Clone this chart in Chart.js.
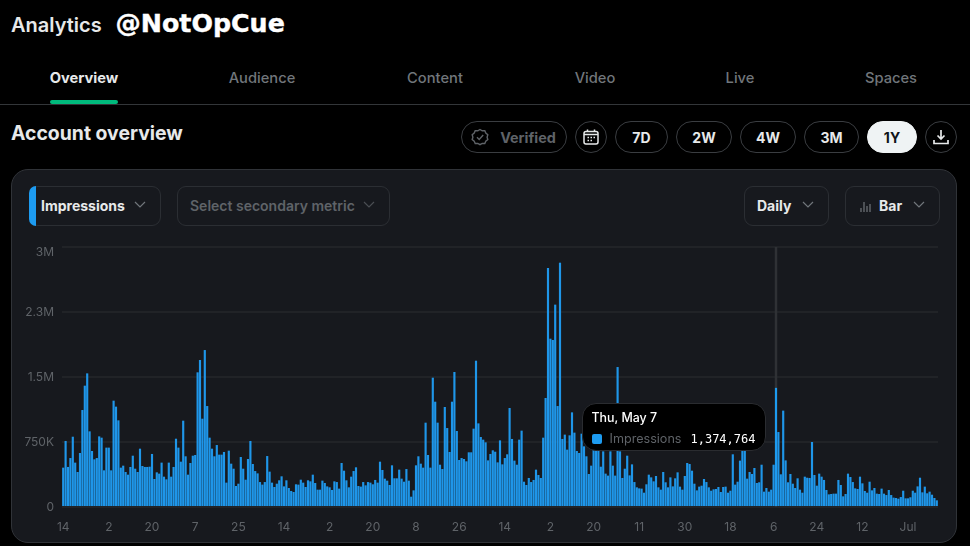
<!DOCTYPE html>
<html>
<head>
<meta charset="utf-8">
<title>Analytics</title>
<script src="https://cdn.jsdelivr.net/npm/chart.js@4"></script>
<style>
  * { box-sizing: border-box; }
  html, body { margin: 0; width: 970px; height: 546px; overflow: hidden; background: #000; font-family: Inter, sans-serif; }
  .abs { position: absolute; white-space: nowrap; }

  #heading { left: 11px; top: 13px; font-size: 20px; line-height: 24px; font-weight: 600; color: #e7e9ea; }
  #handle { left: 115.5px; top: 9px; font: 700 25.300px/30px "DejaVu Sans", sans-serif; color: #fff; -webkit-text-stroke: 0.4px #fff; }

  .tab { top: 69px; font-size: 14.700px; line-height: 18px; font-weight: 500; color: #71767b; transform: translateX(-50%); }
  .tab.on { font-weight: 700; color: #e7e9ea; }
  #tab-bar { left: 50px; top: 100px; width: 68px; height: 4px; border-radius: 2px; background: #00ba7c; }
  #tab-line { left: 0; top: 104px; width: 970px; height: 1px; background: #333639; }

  #section { left: 11px; top: 121px; font-size: 19.400px; line-height: 24px; font-weight: 700; color: #e7e9ea; }

  .pill { top: 121px; height: 32px; border: 1px solid #3a3d41; border-radius: 16px; color: #e7e9ea; font-size: 14px; font-weight: 700; display: flex; align-items: center; justify-content: center; }
  .pill.on { background: #eff3f4; border-color: #eff3f4; color: #0f1419; }

  #panel { left: 11px; top: 169px; width: 946px; height: 374px; background: #17191e; border: 1px solid #303338; border-radius: 17px; }

  .drop { top: 186px; height: 40px; border: 1px solid #2b2e33; border-radius: 9px; font-size: 14px; font-weight: 700; line-height: 38px; color: #e7e9ea; }
  .drop span { position: absolute; top: 0; }
  .drop svg { position: absolute; top: 14px; }
  #stripe { left: -1px; top: -1px; width: 7px; height: 40px; background: #1d9bf0; border-radius: 7px 0 0 7px; }

  #chart-wrap { left: 12px; top: 236px; width: 945px; height: 304px; }

  #tip { width: 184px; height: 48px; background: #000; border: 1px solid #2a2c30; border-radius: 14px; color: #fff; }
  #tip-title { position: absolute; left: 9px; top: 5px; font-size: 12.400px; line-height: 18px; font-weight: 500; }
  #tip-swatch { position: absolute; left: 9px; top: 30px; width: 10px; height: 10px; border-radius: 2px; background: #1d9bf0; }
  #tip-label { position: absolute; left: 27px; top: 26px; font-size: 12.600px; line-height: 18px; color: #5f6368; }
  #tip-value { position: absolute; right: 9px; top: 26px; font: 12px/18px "DejaVu Sans Mono", monospace; }
</style>
</head>
<body>

<div class="abs" id="heading">Analytics</div>
<div class="abs" id="handle">@NotOpCue</div>

<div class="abs tab on" style="left:84px">Overview</div>
<div class="abs tab" style="left:262px">Audience</div>
<div class="abs tab" style="left:435px">Content</div>
<div class="abs tab" style="left:595px">Video</div>
<div class="abs tab" style="left:740px">Live</div>
<div class="abs tab" style="left:891px">Spaces</div>
<div class="abs" id="tab-bar"></div>
<div class="abs" id="tab-line"></div>

<div class="abs" id="section">Account overview</div>

<div class="abs pill" style="left:461px;width:106px;color:#5f6368;font-size:14.400px;padding-left:28px">Verified
  <svg style="position:absolute;left:9px;top:6px" width="18" height="18" viewBox="0 0 18 18" fill="none" stroke="#5f6368" stroke-width="1.4"><path d="M9 1.5l2.2 1.3 2.6-.1 1 2.4 2 1.6-.7 2.5.7 2.3-2 1.6-1 2.4-2.6-.1L9 16.7l-2.2-1.3-2.6.1-1-2.4-2-1.6.7-2.3L1.200 6.700l2-1.600 1-2.400 2.600.1z"/><path d="M6 9.300l2.200 2.200 4-4.500"/></svg>
</div>
<div class="abs pill" style="left:575px;width:32px">
  <svg width="16" height="16" viewBox="0 0 16 16" fill="none" stroke="#e7e9ea" stroke-width="1.500"><rect x="1" y="2.500" width="14" height="12.500" rx="2"/><path d="M1 5.500h14M4.500 .5v2M11.500 .5v2"/><path d="M4.500 8.500h1.500M7.500 8.500h1.500M10.500 8.500h1.500M4.500 11.500h1.500M7.500 11.500h1.500"/></svg>
</div>
<div class="abs pill" style="left:615px;width:53px">7D</div>
<div class="abs pill" style="left:676px;width:56px">2W</div>
<div class="abs pill" style="left:740px;width:56px">4W</div>
<div class="abs pill" style="left:804px;width:55px">3M</div>
<div class="abs pill on" style="left:867px;width:50px">1Y</div>
<div class="abs pill" style="left:925px;width:32px">
  <svg width="16" height="16" viewBox="0 0 16 16" fill="none" stroke="#e7e9ea" stroke-width="1.700"><path d="M8 1v9M4.500 6.500L8 10l3.500-3.500"/><path d="M1 11v3.500h14V11"/></svg>
</div>

<div class="abs" id="panel"></div>

<div class="abs drop" style="left:29px;width:132px">
  <div class="abs" id="stripe"></div>
  <span style="left:11px">Impressions</span>
  <svg style="left:104px" width="12" height="8" viewBox="0 0 12 8" fill="none" stroke="#71767b" stroke-width="1.200"><path d="M1 1l5 5 5-5"/></svg>
</div>
<div class="abs drop" style="left:177px;width:213px;color:#5f6368;font-weight:600">
  <span style="left:12px">Select secondary metric</span>
  <svg style="left:185px" width="12" height="8" viewBox="0 0 12 8" fill="none" stroke="#4b4e53" stroke-width="1.200"><path d="M1 1l5 5 5-5"/></svg>
</div>
<div class="abs drop" style="left:744px;width:85px">
  <span style="left:12px">Daily</span>
  <svg style="left:57px" width="12" height="8" viewBox="0 0 12 8" fill="none" stroke="#71767b" stroke-width="1.200"><path d="M1 1l5 5 5-5"/></svg>
</div>
<div class="abs drop" style="left:845px;width:95px">
  <svg style="left:14px;top:14px" width="11" height="11" viewBox="0 0 11 11" fill="none" stroke="#71767b" stroke-width="1.200"><path d="M1 11V7M4 11V1M7 11V5M10 11V3"/></svg>
  <span style="left:33px">Bar</span>
  <svg style="left:67px" width="12" height="8" viewBox="0 0 12 8" fill="none" stroke="#71767b" stroke-width="1.200"><path d="M1 1l5 5 5-5"/></svg>
</div>

<div class="abs" id="chart-wrap"><canvas id="myChart" width="945" height="304"></canvas></div>

<div class="abs" id="tip">
  <div id="tip-title"></div>
  <div id="tip-swatch"></div>
  <div id="tip-label"></div>
  <div id="tip-value"></div>
</div>

<script>
// ---------- DATA ----------

// daily impressions in thousands, one per day from Jul 14
var impressionsK = [
  454,762,462,565,811,512,404,623,1119,1400,1542,873,646,550,565,815,800,423,685,685,
  423,1227,1158,1000,454,477,404,373,462,592,442,404,673,473,462,462,465,612,323,400,
  385,512,350,319,512,350,462,788,685,523,996,585,373,508,592,600,1554,1696,1019,1811,
  1165,800,673,585,715,604,604,635,281,650,500,442,242,269,577,442,315,554,762,496,
  415,388,288,258,288,588,408,281,231,269,308,354,238,308,219,185,173,262,258,315,
  281,231,308,296,373,277,200,200,304,277,238,227,196,296,288,212,508,419,308,227,
  350,415,458,242,235,288,250,288,281,262,312,281,523,427,327,304,254,481,331,331,
  431,327,292,438,304,119,192,481,585,500,454,973,600,454,1492,1215,973,488,438,1154,
  911,635,1215,1558,877,542,565,554,527,631,631,904,1688,965,808,777,746,538,612,654,
  638,515,769,492,565,608,1142,785,535,488,777,881,292,254,335,288,312,431,369,335,
  800,1258,2758,1942,1927,2335,1165,2819,785,835,662,827,1092,858,646,623,846,700,585,381,
  477,662,738,738,465,642,385,362,642,477,362,1615,642,335,442,592,365,492,288,227,
  215,212,165,262,373,342,296,358,227,200,404,285,227,342,238,331,400,235,200,358,
  508,496,419,269,192,235,246,323,288,227,188,204,208,231,173,231,235,165,188,608,
  258,292,535,700,700,327,404,381,450,277,285,488,177,219,177,200,488,1374.764,865,377,
  1112,538,285,381,269,219,331,200,165,350,338,335,750,369,246,385,350,312,196,146,
  150,154,154,312,254,123,150,385,346,288,215,208,350,273,185,165,292,192,219,154,
  150,212,154,138,196,138,108,104,96,115,188,100,100,112,188,165,238,338,169,235,
  158,177,142,104,77
];

var yTickValues = [0, 750000, 1500000, 2250000, 3000000];
var yTickLabels = ["0", "750K", "1.5M", "2.3M", "3M"];

// day offsets of the labelled dates on the x axis
var xTickDays = [0, 19, 37, 55, 73, 92, 111, 129, 147, 165, 184, 203, 221, 240, 259, 278, 296, 314, 333, 352];
var xTickLabels = ["14", "2", "20", "7", "25", "14", "2", "20", "8", "26", "14", "2", "20", "11", "30", "18", "6", "24", "12", "Jul"];

var hoverDay = 297;

var days = [];
for (var i = 0; i < impressionsK.length; i++) {
  days.push(new Date(Date.UTC(2025, 6, 14 + i)).toLocaleDateString("en-US", {
    weekday: "short", month: "short", day: "numeric", timeZone: "UTC"
  }));
}

var impressions = impressionsK.map(function(v) { return Math.round(v * 1000); });

// ---------- CHART ----------

// vertical guide behind the hovered bar
var hoverLine = {
  id: "hoverLine",
  beforeDatasetsDraw: function(chart) {
    var active = chart.getActiveElements();
    if (!active.length) return;
    var c = chart.ctx;
    c.save();
    c.strokeStyle = "#2f3135";
    c.lineWidth = 2.5;
    c.beginPath();
    c.moveTo(active[0].element.x, chart.chartArea.top);
    c.lineTo(active[0].element.x, chart.chartArea.bottom);
    c.stroke();
    c.restore();
  }
};

function showTip(context) {
  var tip = context.tooltip;
  if (!tip.dataPoints || !tip.dataPoints.length) return;
  var point = tip.dataPoints[0];
  var box = document.getElementById("tip");
  var wrap = document.getElementById("chart-wrap");
  document.getElementById("tip-title").textContent = point.label;
  document.getElementById("tip-label").textContent = point.dataset.label;
  document.getElementById("tip-value").textContent = point.parsed.y.toLocaleString("en-US");
  box.style.left = (wrap.offsetLeft + point.element.x - 194.5) + "px";
  box.style.top = (wrap.offsetTop + point.element.y + 15) + "px";
}

var ctx = document.getElementById("myChart").getContext("2d");
var myChart = new Chart(ctx, {
  type: "bar",
  plugins: [hoverLine],
  data: {
    labels: days,
    datasets: [{
      label: "Impressions",
      data: impressions,
      backgroundColor: "#1f96e9",
      hoverBackgroundColor: "#1d9bf0",
      borderWidth: 0,
      categoryPercentage: 1,
      barPercentage: 0.9
    }]
  },
  options: {
    responsive: false,
    animation: false,
    events: [],
    layout: { padding: { top: 11, right: 19, bottom: 0, left: 0 } },
    plugins: {
      legend: { display: false },
      tooltip: { enabled: false, external: showTip, mode: "index", intersect: false }
    },
    scales: {
      x: {
        grid: { display: false },
        border: { display: false },
        afterBuildTicks: function(scale) {
          scale.ticks = xTickDays.map(function(d) { return { value: d }; });
        },
        afterFit: function(scale) {
          scale.height = 33;
          scale.paddingLeft = 0;
          scale.paddingRight = 0;
        },
        ticks: {
          autoSkip: false,
          maxRotation: 0,
          minRotation: 0,
          padding: 5,
          color: "#5f6368",
          font: { family: "Inter", size: 12 },
          callback: function(value) { return xTickLabels[xTickDays.indexOf(value)]; }
        }
      },
      y: {
        min: 0,
        max: 3000000,
        grid: { color: "#212327", lineWidth: 2, drawTicks: false },
        border: { display: false },
        afterBuildTicks: function(scale) {
          scale.ticks = yTickValues.map(function(v) { return { value: v }; });
        },
        afterFit: function(scale) {
          scale.width = 50;
          scale.paddingTop = 0;
          scale.paddingBottom = 0;
        },
        ticks: {
          padding: 8,
          color: "#5f6368",
          font: { family: "Inter", size: 12, lineHeight: "10px" },
          callback: function(value) {
            var label = yTickLabels[yTickValues.indexOf(value)];
            // top label sits just under its grid line
            return value === 3000000 ? ["", label] : label;
          }
        }
      }
    }
  }
});

var hovered = [{ datasetIndex: 0, index: hoverDay }];
myChart.setActiveElements(hovered);
myChart.tooltip.setActiveElements(hovered, { x: 0, y: 0 });
myChart.update();
</script>
</body>
</html>
